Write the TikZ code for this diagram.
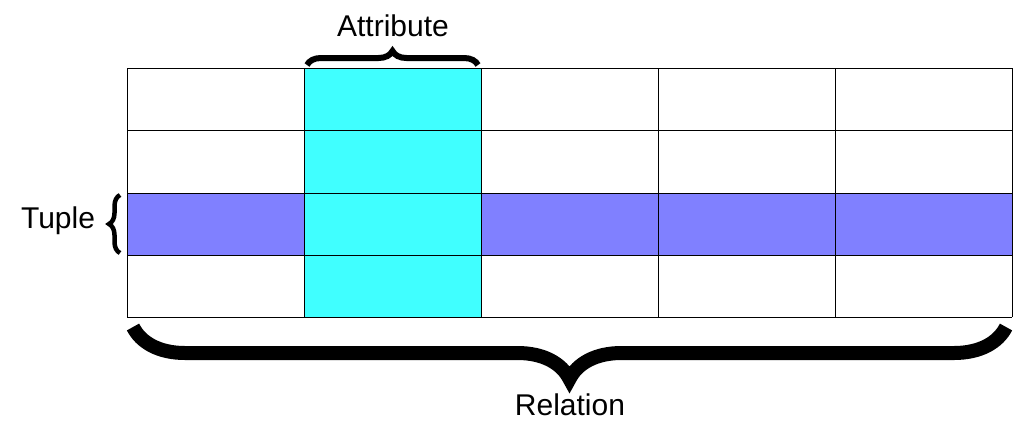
\documentclass[tikz,border=0pt]{standalone}
\usepackage{fontspec}
\setmainfont{Liberation Sans}
\usetikzlibrary{decorations.pathreplacing}
\definecolor{attr}{HTML}{40FFFF}
\definecolor{tup}{HTML}{8080FF}
\begin{document}
\begin{tikzpicture}[x=1pt,y=-1pt,
  lbl/.style={font=\fontsize{30}{34}\selectfont, inner sep=0pt},
  cell/.style={draw=black, line width=0.8pt}]
\useasboundingbox (0,0) rectangle (1024,440);
\fill[tup] (127,193) rectangle (1012,255);
\fill[attr] (304,68) rectangle (481,317);
\foreach \y in {68,130,193,255,317} \draw[cell] (127,\y) -- (1012,\y);
\foreach \x in {127,304,481,658,835,1012} \draw[cell] (\x,68) -- (\x,317);
\coordinate (a1) at (307,65); \coordinate (a2) at (478,65);
\draw[line width=6pt, decorate, decoration={brace, amplitude=14pt}] (a1) -- (a2);
\node[lbl] (attr) at (393,26) {Attribute};
\coordinate (t1) at (120,253); \coordinate (t2) at (120,195);
\draw[line width=4.5pt, decorate, decoration={brace, amplitude=11pt}] (t1) -- (t2);
\node[lbl] (tuple) at (58,221) {Tuple};
\coordinate (r1) at (1006,327); \coordinate (r2) at (133,327);
\draw[line width=14pt, decorate, decoration={brace, amplitude=52pt, aspect=0.5}] (r1) -- (r2);
\node[lbl] (rel) at (570,405) {Relation};
\end{tikzpicture}
\end{document}
